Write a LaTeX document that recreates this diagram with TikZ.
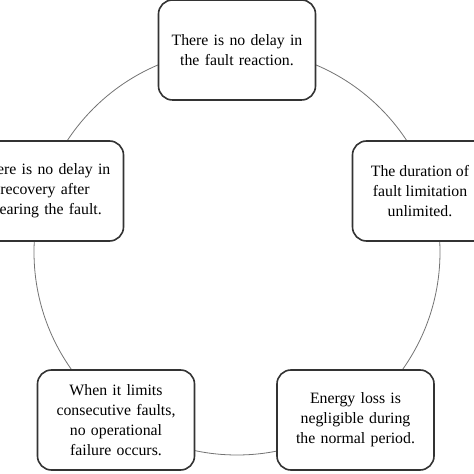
\documentclass[tikz,border=0pt]{standalone}
\usepackage{fontspec}
\setmainfont{Liberation Serif}
\usetikzlibrary{positioning}
\tikzset{
    cyclediagram/.style={x=1pt, y=1pt, font=\fontsize{15.8}{20}\selectfont},
    stage/.style={draw=black!80, line width=1.6pt, rounded corners=14pt, fill=white,
        minimum width=157pt, minimum height=100pt, text width=152pt, align=center, inner sep=0pt},
    stagetext/.style={align=center, inner sep=0pt},
    ring/.style={draw=black!55, line width=0.8pt},
}

\begin{document}
\begin{tikzpicture}[cyclediagram]
        \useasboundingbox (0,0) rectangle (474,474);
        \coordinate (c) at (237,222);

        % the ring behind the stages
        \draw[ring] (c) circle (203);

        \node[stage] (react)   at (237,424)   {There is no delay in\\the fault reaction.};
        \node[stage] (limit)   at (431,283)   {};
        \node[stagetext] (limittext) at ([xshift=-11pt]limit.center) {The duration of\\fault limitation\\unlimited.};
        \node[stage] (loss)    at (355.5,54)  {Energy loss is\\negligible during\\the normal period.};
        \node[stage] (consec)  at (116,54)    {When it limits\\consecutive faults,\\no operational\\failure occurs.};
        \node[stage] (recover) at (45,283)    {There is no delay in\\recovery after\\clearing the fault.};
    \end{tikzpicture}
\end{document}
